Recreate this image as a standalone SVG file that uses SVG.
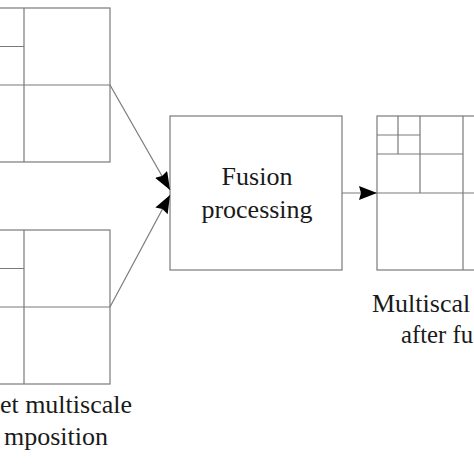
<svg xmlns="http://www.w3.org/2000/svg" width="474" height="474" viewBox="0 0 474 474">
<style>
.ln{fill:none;stroke:#7a7a7a;stroke-width:1.2}
.bx{fill:#fff;stroke:#7a7a7a;stroke-width:1.2}
.t{font-family:"Liberation Serif","Times New Roman",serif;font-size:26px;fill:#1a1a1a}
</style>
<defs>
<marker id="ah" markerUnits="userSpaceOnUse" markerWidth="20" markerHeight="16" refX="18" refY="7" orient="auto">
<path d="M0,0 L18,7 L0,14 L2,7 Z" fill="#000"/>
</marker>
</defs>
<rect width="474" height="474" fill="#fff"/>
<g id="decomp-top">
<rect class="bx" x="-62" y="8" width="172" height="154"/>
<path class="ln" d="M24,8 V162 M-62,85 H110 M-62,46.5 H24"/>
</g>
<g id="decomp-bottom">
<rect class="bx" x="-62" y="230" width="172" height="154"/>
<path class="ln" d="M24,230 V384 M-62,307 H110 M-62,268.5 H24"/>
</g>
<g id="fusion">
<rect class="bx" x="170" y="116" width="172" height="154"/>
<text class="t" x="257" y="185" text-anchor="middle">Fusion</text>
<text class="t" x="257" y="218" text-anchor="middle">processing</text>
</g>
<g id="result">
<rect class="bx" x="377" y="116" width="172" height="154"/>
<path class="ln" d="M463,116 V270 M377,193 H549 M420,116 V193 M377,154 H463 M398,116 V154 M377,135 H420"/>
</g>
<g id="connectors">
<line class="ln" x1="110" y1="85" x2="170" y2="190" marker-end="url(#ah)"/>
<line class="ln" x1="110" y1="307" x2="170" y2="195" marker-end="url(#ah)"/>
<line class="ln" x1="342" y1="193" x2="377" y2="193" marker-end="url(#ah)"/>
</g>
<g id="labels">
<text class="t" x="132" y="413" text-anchor="end">et multiscale</text>
<text class="t" x="108" y="445" text-anchor="end">mposition</text>
<text class="t" x="372" y="312">Multiscal</text>
<text class="t" x="401" y="343" textLength="72" lengthAdjust="spacingAndGlyphs">after fu</text>
</g>
</svg>
